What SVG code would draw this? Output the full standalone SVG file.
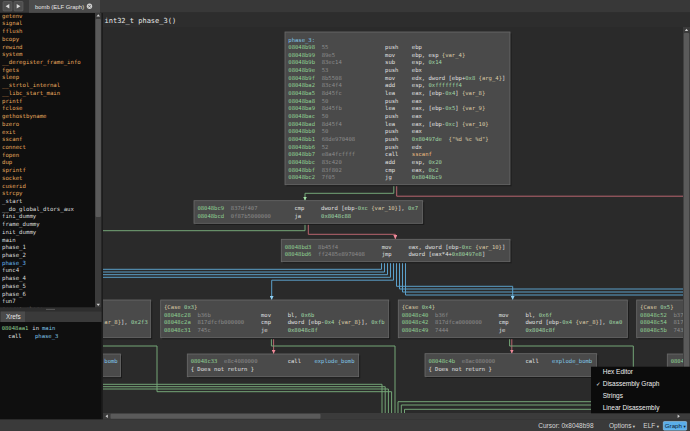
<svg xmlns="http://www.w3.org/2000/svg" width="690" height="431" viewBox="0 0 690 431">
<defs>
<style>
.m{font-family:"DejaVu Sans Mono","Liberation Mono",monospace;font-size:5.55px}
.lst{font-family:"DejaVu Sans Mono","Liberation Mono",monospace;font-size:5.7px}
.ui{font-family:"Liberation Sans","DejaVu Sans",sans-serif}
.sym{font-family:"DejaVu Sans",sans-serif}
.a{fill:#8fcf92}.b{fill:#8a8a8a}.t{fill:#e0e0e0}.n{fill:#9fd6a4}.v{fill:#dccba6}.i{fill:#edbd81}.s{fill:#80c6e9}
.imp{fill:#e6a95e}.loc{fill:#dcdcdc}
.node{fill:#4a4a4a;stroke:#6b6b6b;stroke-width:0.8}
.sh{fill:#1a1a1a}
.e{fill:none;stroke-width:1}
.g{stroke:#74a677}.r{stroke:#b9656f}.bl{stroke:#5a9fc9}
</style>
<marker id="ag" markerUnits="userSpaceOnUse" markerWidth="4" markerHeight="4" refX="4" refY="2" orient="auto" viewBox="0 0 4 4"><path d="M0,0L4,2L0,4z" fill="#a6e3a8"/></marker>
<marker id="ar" markerUnits="userSpaceOnUse" markerWidth="4" markerHeight="4" refX="4" refY="2" orient="auto" viewBox="0 0 4 4"><path d="M0,0L4,2L0,4z" fill="#f08a9a"/></marker>
<marker id="ab" markerUnits="userSpaceOnUse" markerWidth="4" markerHeight="4" refX="4" refY="2" orient="auto" viewBox="0 0 4 4"><path d="M0,0L4,2L0,4z" fill="#8fd0f5"/></marker>
<clipPath id="gc"><rect x="103" y="27" width="580" height="386"/></clipPath>
<clipPath id="lc"><rect x="0" y="13" width="95" height="294.5"/></clipPath>
</defs>

<!-- chrome -->
<rect x="0" y="0" width="690" height="431" fill="#2a2a2a"/>
<rect x="0" y="0" width="690" height="13" fill="#383838"/>
<line x1="0" y1="12.8" x2="690" y2="12.8" stroke="#222" stroke-width="0.6"/>
<g id="nav">
<rect x="3" y="1.5" width="9" height="9.5" rx="1" fill="#4e4e4e" stroke="#676767" stroke-width="0.6"/>
<path d="M9.3,3.9L5.6,6.25L9.3,8.6z" fill="#d8d8d8"/>
<rect x="14" y="1.5" width="9" height="9.5" rx="1" fill="#4e4e4e" stroke="#676767" stroke-width="0.6"/>
<path d="M16.7,3.9L20.4,6.25L16.7,8.6z" fill="#d8d8d8"/>
</g>
<g id="tab">
<rect x="29" y="0" width="71" height="12.8" fill="#4b4b4b"/>
<text class="ui" x="35" y="8.5" font-size="5.9" fill="#e6e6e6">bomb (ELF Graph)</text>
<circle cx="89.5" cy="6.3" r="2.7" fill="#d0d0d0"/>
<path d="M88.3,5.1L90.7,7.5M90.7,5.1L88.3,7.5" stroke="#4b4b4b" stroke-width="0.7"/>
</g>

<!-- left function list -->
<g id="funclist">
<rect x="0" y="13" width="95" height="294.5" fill="#0f0f0f"/>
<g class="lst" clip-path="url(#lc)">
<text x="2" y="17.7" class="imp">getenv</text>
<text x="2" y="25.42" class="imp">signal</text>
<text x="2" y="33.14" class="imp">fflush</text>
<text x="2" y="40.86" class="imp">bcopy</text>
<text x="2" y="48.58" class="imp">rewind</text>
<text x="2" y="56.3" class="imp">system</text>
<text x="2" y="64.02" class="imp">__deregister_frame_info</text>
<text x="2" y="71.74" class="imp">fgets</text>
<text x="2" y="79.46" class="imp">sleep</text>
<text x="2" y="87.18" class="imp">__strtol_internal</text>
<text x="2" y="94.9" class="imp">__libc_start_main</text>
<text x="2" y="102.62" class="imp">printf</text>
<text x="2" y="110.34" class="imp">fclose</text>
<text x="2" y="118.06" class="imp">gethostbyname</text>
<text x="2" y="125.78" class="imp">bzero</text>
<text x="2" y="133.5" class="imp">exit</text>
<text x="2" y="141.22" class="imp">sscanf</text>
<text x="2" y="148.94" class="imp">connect</text>
<text x="2" y="156.66" class="imp">fopen</text>
<text x="2" y="164.38" class="imp">dup</text>
<text x="2" y="172.1" class="imp">sprintf</text>
<text x="2" y="179.82" class="imp">socket</text>
<text x="2" y="187.54" class="imp">cuserid</text>
<text x="2" y="195.26" class="imp">strcpy</text>
<text x="2" y="202.98" class="loc">_start</text>
<text x="2" y="210.7" class="loc">__do_global_dtors_aux</text>
<text x="2" y="218.42" class="loc">fini_dummy</text>
<text x="2" y="226.14" class="loc">frame_dummy</text>
<text x="2" y="233.86" class="loc">init_dummy</text>
<text x="2" y="241.58" class="loc">main</text>
<text x="2" y="249.3" class="loc">phase_1</text>
<text x="2" y="257.02" class="loc">phase_2</text>
<text x="2" y="264.74" fill="#66b3ee">phase_3</text>
<text x="2" y="272.46" class="loc">func4</text>
<text x="2" y="280.18" class="loc">phase_4</text>
<text x="2" y="287.9" class="loc">phase_5</text>
<text x="2" y="295.62" class="loc">phase_6</text>
<text x="2" y="303.34" class="loc">fun7</text>
<text x="2" y="311.06" class="loc">secret_phase</text>
</g>
<rect x="95" y="13" width="6.5" height="294.5" fill="#3b3b3b"/>
<rect x="95.6" y="19" width="5.3" height="198" rx="1" fill="#5a5a5a"/>
<path d="M96.5,16.5L98.25,14.3L100,16.5z" fill="#cfcfcf"/>
<path d="M96.5,303.8L98.25,306L100,303.8z" fill="#cfcfcf"/>
</g>
<rect x="101.5" y="13" width="1.5" height="406.5" fill="#1c1c1c"/>

<!-- xrefs panel -->
<g id="xrefs">
<rect x="0" y="307.5" width="101.5" height="4" fill="#2e2e2e"/>
<line x1="46" y1="309.4" x2="55" y2="309.4" stroke="#777" stroke-width="0.6"/>
<rect x="0" y="311.5" width="101.5" height="10.5" fill="#3a3a3a"/>
<rect x="1" y="311.5" width="24" height="10.5" fill="#4b4b4b"/>
<text class="ui" x="6" y="319" font-size="6.3" fill="#e6e6e6">Xrefs</text>
<rect x="0" y="322" width="101.5" height="97.5" fill="#0f0f0f"/>
<text class="m" y="329.8"><tspan x="1.7" class="a">08048aa1</tspan><tspan x="32.3" class="t">in</tspan><tspan x="42" class="s">main</tspan></text>
<text class="m" y="338"><tspan x="8.3" class="t">call</tspan><tspan x="35" class="s">phase_3</tspan></text>
</g>

<!-- graph view -->
<rect x="103" y="13" width="587" height="14" fill="#2d2d2d"/>
<text x="104.5" y="22.6" font-family="DejaVu Sans Mono, Liberation Mono, monospace" font-size="7" fill="#e8e8e8">int32_t phase_3()</text>
<rect x="103" y="27" width="580" height="386" fill="#2a2a2a"/>

<g id="connectors" class="e" clip-path="url(#gc)">
<path class="e g" d="M393.8,184.7V193.3H305V200.5" marker-end="url(#ag)"/>
<path class="e r" d="M396.7,184.7V196.2H690"/>
<path class="e g" d="M305,223.3V230.7H100"/>
<path class="e r" d="M308.3,223.3V234.3H395.3V239.1" marker-end="url(#ar)"/>
<path class="e bl" d="M381.5,261.7V269.3H100"/>
<path class="e bl" d="M384.5,261.7V272H100"/>
<path class="e bl" d="M387.5,261.7V274.7H100"/>
<path class="e bl" d="M390.5,261.7V277.3H100"/>
<path class="e bl" d="M393.5,261.7V280.2H271.7V299.8" marker-end="url(#ab)"/>
<path class="e bl" d="M396.5,261.7V286.3H512.7V299.8" marker-end="url(#ab)"/>
<path class="e bl" d="M399.5,261.7V289H690"/>
<path class="e bl" d="M402.5,261.7V292H690"/>
<path class="e bl" d="M405.5,261.7V295H690"/>
<path class="e r" d="M273.6,337.7V353.8" marker-end="url(#ar)"/>
<path class="e g" d="M271.4,337.7V346H395V414"/>
<path class="e r" d="M511.8,337.7V353.5" marker-end="url(#ar)"/>
<path class="e g" d="M509.6,337.7V346H633.3V401.7H398V414"/>
<path class="e g" d="M690,405H401.3V414"/>
<path class="e g" d="M690,409.3H404.5V414"/>
<path class="e g" d="M100,346H157V391.7H391.6V414"/>
<path class="e g" d="M100,384.3H382V414"/>
<path class="e g" d="M100,386.7H385.2V414"/>
<path class="e g" d="M100,389H388.4V414"/>
</g>

<g clip-path="url(#gc)">
<g id="n_phase3">
<rect class="sh" x="286.5" y="33.5" width="225" height="152.7"/>
<rect class="node" x="285" y="32" width="225" height="152.7" stroke="#777"/>
<text class="m s" x="288.3" y="41.7">phase_3:</text>
<text class="m" y="49"><tspan x="288.3" class="a">08048b98</tspan><tspan x="321.7" class="b">55</tspan><tspan x="385.1" class="t">push</tspan><tspan x="411.8" class="t">ebp</tspan></text>
<text class="m" y="56.67"><tspan x="288.3" class="a">08048b99</tspan><tspan x="321.7" class="b">89e5</tspan><tspan x="385.1" class="t">mov</tspan><tspan x="411.8" class="t">ebp, esp</tspan><tspan class="v"> {var_4}</tspan></text>
<text class="m" y="64.34"><tspan x="288.3" class="a">08048b9b</tspan><tspan x="321.7" class="b">83ec14</tspan><tspan x="385.1" class="t">sub</tspan><tspan x="411.8" class="t">esp, </tspan><tspan class="n">0x14</tspan></text>
<text class="m" y="72.01"><tspan x="288.3" class="a">08048b9e</tspan><tspan x="321.7" class="b">53</tspan><tspan x="385.1" class="t">push</tspan><tspan x="411.8" class="t">ebx</tspan></text>
<text class="m" y="79.68"><tspan x="288.3" class="a">08048b9f</tspan><tspan x="321.7" class="b">8b5508</tspan><tspan x="385.1" class="t">mov</tspan><tspan x="411.8" class="t">edx, dword [ebp+</tspan><tspan class="n">0x8</tspan><tspan class="v"> {arg_4}</tspan><tspan class="t">]</tspan></text>
<text class="m" y="87.35"><tspan x="288.3" class="a">08048ba2</tspan><tspan x="321.7" class="b">83c4f4</tspan><tspan x="385.1" class="t">add</tspan><tspan x="411.8" class="t">esp, </tspan><tspan class="n">0xfffffff4</tspan></text>
<text class="m" y="95.02"><tspan x="288.3" class="a">08048ba5</tspan><tspan x="321.7" class="b">8d45fc</tspan><tspan x="385.1" class="t">lea</tspan><tspan x="411.8" class="t">eax, [ebp-</tspan><tspan class="n">0x4</tspan><tspan class="t">]</tspan><tspan class="v"> {var_8}</tspan></text>
<text class="m" y="102.69"><tspan x="288.3" class="a">08048ba8</tspan><tspan x="321.7" class="b">50</tspan><tspan x="385.1" class="t">push</tspan><tspan x="411.8" class="t">eax</tspan></text>
<text class="m" y="110.36"><tspan x="288.3" class="a">08048ba9</tspan><tspan x="321.7" class="b">8d45fb</tspan><tspan x="385.1" class="t">lea</tspan><tspan x="411.8" class="t">eax, [ebp-</tspan><tspan class="n">0x5</tspan><tspan class="t">]</tspan><tspan class="v"> {var_9}</tspan></text>
<text class="m" y="118.03"><tspan x="288.3" class="a">08048bac</tspan><tspan x="321.7" class="b">50</tspan><tspan x="385.1" class="t">push</tspan><tspan x="411.8" class="t">eax</tspan></text>
<text class="m" y="125.7"><tspan x="288.3" class="a">08048bad</tspan><tspan x="321.7" class="b">8d45f4</tspan><tspan x="385.1" class="t">lea</tspan><tspan x="411.8" class="t">eax, [ebp-</tspan><tspan class="n">0xc</tspan><tspan class="t">]</tspan><tspan class="v"> {var_10}</tspan></text>
<text class="m" y="133.37"><tspan x="288.3" class="a">08048bb0</tspan><tspan x="321.7" class="b">50</tspan><tspan x="385.1" class="t">push</tspan><tspan x="411.8" class="t">eax</tspan></text>
<text class="m" y="141.04"><tspan x="288.3" class="a">08048bb1</tspan><tspan x="321.7" class="b">68de970408</tspan><tspan x="385.1" class="t">push</tspan><tspan x="411.8" class="n">0x80497de</tspan><tspan x="448.6" class="v">{"%d %c %d"}</tspan></text>
<text class="m" y="148.71"><tspan x="288.3" class="a">08048bb6</tspan><tspan x="321.7" class="b">52</tspan><tspan x="385.1" class="t">push</tspan><tspan x="411.8" class="t">edx</tspan></text>
<text class="m" y="156.38"><tspan x="288.3" class="a">08048bb7</tspan><tspan x="321.7" class="b">e8a4fcffff</tspan><tspan x="385.1" class="t">call</tspan><tspan x="411.8" class="i">sscanf</tspan></text>
<text class="m" y="164.05"><tspan x="288.3" class="a">08048bbc</tspan><tspan x="321.7" class="b">83c420</tspan><tspan x="385.1" class="t">add</tspan><tspan x="411.8" class="t">esp, </tspan><tspan class="n">0x20</tspan></text>
<text class="m" y="171.72"><tspan x="288.3" class="a">08048bbf</tspan><tspan x="321.7" class="b">83f802</tspan><tspan x="385.1" class="t">cmp</tspan><tspan x="411.8" class="t">eax, </tspan><tspan class="n">0x2</tspan></text>
<text class="m" y="179.39"><tspan x="288.3" class="a">08048bc2</tspan><tspan x="321.7" class="b">7f05</tspan><tspan x="385.1" class="t">jg</tspan><tspan x="411.8" class="n">0x8048bc9</tspan></text>
</g>

<g id="n_cmp">
<rect class="sh" x="195.5" y="202.2" width="228.7" height="22.6"/>
<rect class="node" x="194" y="200.7" width="228.7" height="22.6"/>
<text class="m" y="210.1"><tspan x="197.4" class="a">08048bc9</tspan><tspan x="230.8" class="b">837df407</tspan><tspan x="294.4" class="t">cmp</tspan><tspan x="321.1" class="t">dword [ebp-</tspan><tspan class="n">0xc</tspan><tspan class="v"> {var_10}</tspan><tspan class="t">], </tspan><tspan class="n">0x7</tspan></text>
<text class="m" y="217.8"><tspan x="197.4" class="a">08048bcd</tspan><tspan x="230.8" class="b">0f87b5000000</tspan><tspan x="294.4" class="t">ja</tspan><tspan x="321.1" class="n">0x8048c88</tspan></text>
</g>

<g id="n_jmp">
<rect class="sh" x="282.8" y="240.8" width="228.7" height="22.4"/>
<rect class="node" x="281.3" y="239.3" width="228.7" height="22.4"/>
<text class="m" y="248.6"><tspan x="284.7" class="a">08048bd3</tspan><tspan x="318.1" class="b">8b45f4</tspan><tspan x="381.7" class="t">mov</tspan><tspan x="408.4" class="t">eax, dword [ebp-</tspan><tspan class="n">0xc</tspan><tspan class="v"> {var_10}</tspan><tspan class="t">]</tspan></text>
<text class="m" y="256.3"><tspan x="284.7" class="a">08048bd6</tspan><tspan x="318.1" class="b">ff2485e8970408</tspan><tspan x="381.7" class="t">jmp</tspan><tspan x="408.4" class="t">dword [eax*4+</tspan><tspan class="n">0x80497e8</tspan><tspan class="t">]</tspan></text>
</g>

<g id="n_case2">
<rect class="sh" x="61.5" y="301.5" width="90.7" height="37.7"/>
<rect class="node" x="60" y="300" width="90.7" height="37.7"/>
<text class="m" y="324.3"><tspan x="104.3" class="v">ar_8}</tspan><tspan class="t">], </tspan><tspan class="n">0x2f3</tspan></text>
</g>

<g id="n_case3">
<rect class="sh" x="162.2" y="301.5" width="228" height="37.7"/>
<rect class="node" x="160.7" y="300" width="228" height="37.7"/>
<text class="m" y="308.7"><tspan x="164" class="v">{Case </tspan><tspan class="n">0x3</tspan><tspan class="v">}</tspan></text>
<text class="m" y="316.6"><tspan x="164" class="a">08048c28</tspan><tspan x="197.4" class="b">b36b</tspan><tspan x="261" class="t">mov</tspan><tspan x="287.7" class="t">bl, </tspan><tspan class="n">0x6b</tspan></text>
<text class="m" y="324.3"><tspan x="164" class="a">08048c2a</tspan><tspan x="197.4" class="b">817dfcfb000000</tspan><tspan x="261" class="t">cmp</tspan><tspan x="287.7" class="t">dword [ebp-</tspan><tspan class="n">0x4</tspan><tspan class="v"> {var_8}</tspan><tspan class="t">], </tspan><tspan class="n">0xfb</tspan></text>
<text class="m" y="332"><tspan x="164" class="a">08048c31</tspan><tspan x="197.4" class="b">745c</tspan><tspan x="261" class="t">je</tspan><tspan x="287.7" class="n">0x8048c8f</tspan></text>
</g>

<g id="n_case4">
<rect class="sh" x="399.8" y="301.5" width="229" height="37.7"/>
<rect class="node" x="398.3" y="300" width="229" height="37.7"/>
<text class="m" y="308.7"><tspan x="401.7" class="v">{Case </tspan><tspan class="n">0x4</tspan><tspan class="v">}</tspan></text>
<text class="m" y="316.6"><tspan x="401.7" class="a">08048c40</tspan><tspan x="435.1" class="b">b36f</tspan><tspan x="498.7" class="t">mov</tspan><tspan x="525.4" class="t">bl, </tspan><tspan class="n">0x6f</tspan></text>
<text class="m" y="324.3"><tspan x="401.7" class="a">08048c42</tspan><tspan x="435.1" class="b">817dfca0000000</tspan><tspan x="498.7" class="t">cmp</tspan><tspan x="525.4" class="t">dword [ebp-</tspan><tspan class="n">0x4</tspan><tspan class="v"> {var_8}</tspan><tspan class="t">], </tspan><tspan class="n">0xa0</tspan></text>
<text class="m" y="332"><tspan x="401.7" class="a">08048c49</tspan><tspan x="435.1" class="b">7444</tspan><tspan x="498.7" class="t">je</tspan><tspan x="525.4" class="n">0x8048c8f</tspan></text>
</g>

<g id="n_case5">
<rect class="sh" x="638.2" y="301.5" width="120" height="37.7"/>
<rect class="node" x="636.7" y="300" width="120" height="37.7"/>
<text class="m" y="308.7"><tspan x="640.1" class="v">{Case </tspan><tspan class="n">0x5</tspan><tspan class="v">}</tspan></text>
<text class="m" y="316.6"><tspan x="640.1" class="a">08048c52</tspan><tspan x="673.5" class="b">b37</tspan></text>
<text class="m" y="324.3"><tspan x="640.1" class="a">08048c54</tspan><tspan x="673.5" class="b">817</tspan></text>
<text class="m" y="332"><tspan x="640.1" class="a">08048c5b</tspan><tspan x="673.5" class="b">743</tspan></text>
</g>

<g id="n_bomb2">
<rect class="sh" x="61.5" y="355.5" width="60.5" height="22.7"/>
<rect class="node" x="60" y="354" width="60.5" height="22.7"/>
<text class="m s" x="104.3" y="363">bomb</text>
</g>

<g id="n_bomb3">
<rect class="sh" x="188.8" y="355.5" width="171.4" height="22.7"/>
<rect class="node" x="187.3" y="354" width="171.4" height="22.7"/>
<text class="m" y="363"><tspan x="190.7" class="a">08048c33</tspan><tspan x="224.1" class="b">e8c4080000</tspan><tspan x="287.7" class="t">call</tspan><tspan x="314.4" class="s">explode_bomb</tspan></text>
<text class="m t" x="190.7" y="370.7">{ Does not return }</text>
</g>

<g id="n_bomb4">
<rect class="sh" x="426.5" y="355.2" width="171.7" height="22.7"/>
<rect class="node" x="425" y="353.7" width="171.7" height="22.7"/>
<text class="m" y="362.8"><tspan x="428.4" class="a">08048c4b</tspan><tspan x="461.8" class="b">e8ac080000</tspan><tspan x="525.4" class="t">call</tspan><tspan x="552.1" class="s">explode_bomb</tspan></text>
<text class="m t" x="428.4" y="370.5">{ Does not return }</text>
</g>

<g id="n_bomb5">
<rect class="sh" x="668.8" y="355.5" width="100" height="22.7"/>
<rect class="node" x="667.3" y="354" width="100" height="22.7"/>
<text class="m a" x="670.7" y="363">0804</text>
</g>
</g>

<!-- scrollbars -->
<g id="vscroll">
<rect x="683" y="27" width="7" height="386" fill="#3b3b3b"/>
<rect x="683.8" y="33" width="5.4" height="372" rx="1" fill="#5a5a5a"/>
<path d="M684.8,31L686.5,28.8L688.2,31z" fill="#cfcfcf"/>
</g>
<g id="hscroll">
<rect x="103" y="413" width="587" height="6.5" fill="#3b3b3b"/>
<path d="M107.8,414.4L105.5,416.25L107.8,418.1z" fill="#cfcfcf"/>
<rect x="110.5" y="413.8" width="210" height="4.9" rx="1" fill="#5a5a5a"/>
<path d="M677.6,414.4L679.9,416.25L677.6,418.1z" fill="#cfcfcf"/>
</g>

<!-- status bar -->
<g id="status">
<rect x="0" y="419.5" width="690" height="11.5" fill="#3a3a3a"/>
<text class="ui" x="538.3" y="428" font-size="6.5" fill="#d6d6d6">Cursor: 0x8048b98</text>
<text class="ui" x="609" y="428" font-size="6.5" fill="#d6d6d6">Options<tspan class="sym" font-size="4.5"> ▾</tspan></text>
<text class="ui" x="643.3" y="428" font-size="6.5" fill="#d6d6d6">ELF<tspan class="sym" font-size="4.5"> ▾</tspan></text>
<rect x="663.3" y="421.5" width="23.4" height="8.7" rx="1" fill="#5aaeea" stroke="#a8d8f8" stroke-width="0.5"/>
<text class="ui" x="664.8" y="428" font-size="6.2" fill="#0e2233">Graph<tspan class="sym" font-size="4.5"> ▾</tspan></text>
</g>

<!-- view menu -->
<g id="menu">
<rect x="591" y="366.7" width="99" height="46.6" fill="#0b0b0b"/>
<text class="ui" x="602.7" y="374.4" font-size="6.5" fill="#f0f0f0">Hex Editor</text>
<text class="sym" x="596" y="386.4" font-size="5.5" fill="#f0f0f0">✓</text>
<text class="ui" x="602.7" y="386.4" font-size="6.5" fill="#f0f0f0">Disassembly Graph</text>
<text class="ui" x="602.7" y="398.4" font-size="6.5" fill="#f0f0f0">Strings</text>
<text class="ui" x="602.7" y="410.4" font-size="6.5" fill="#f0f0f0">Linear Disassembly</text>
</g>
</svg>
